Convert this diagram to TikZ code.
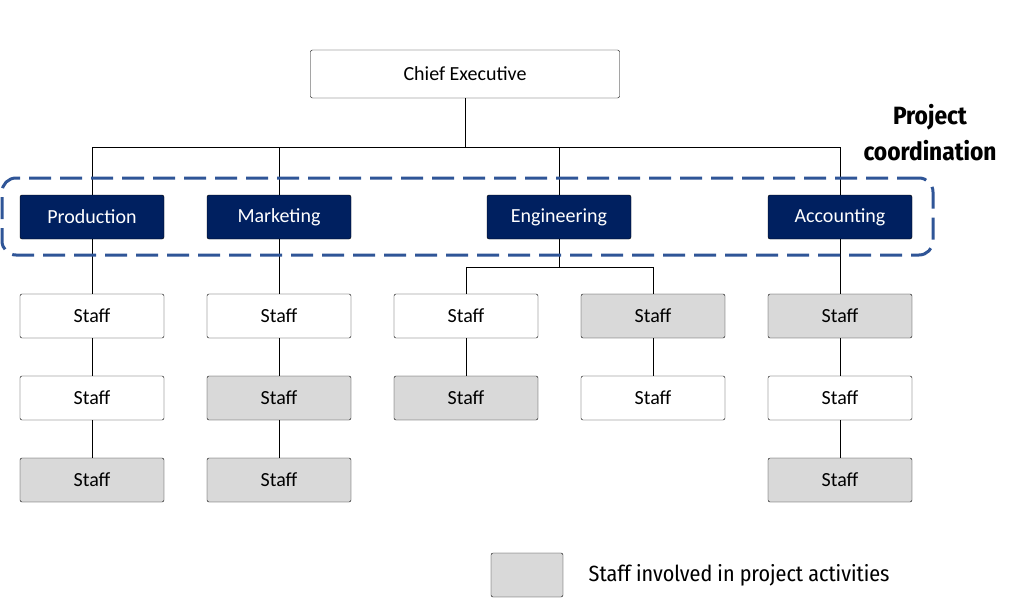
\documentclass[tikz,border=0pt]{standalone}
\usepackage{fontspec}
\setmainfont{Carlito}
\newfontfamily\narrowfont{Fira Sans Condensed}[Scale=1]
\usetikzlibrary{positioning}
\definecolor{deptblue}{RGB}{0,32,96}
\definecolor{dashblue}{RGB}{47,85,151}
\definecolor{involved}{RGB}{217,217,217}
\begin{document}
\begin{tikzpicture}[x=1pt, y=-1pt]
    \tikzstyle{box}   = [draw, rounded corners=2pt, minimum width=144pt, minimum height=44pt,
                         inner sep=0pt, font=\fontsize{20}{24}\selectfont]
    \tikzstyle{staff} = [box, fill=white]
    \tikzstyle{inv}   = [box, fill=involved]
    \tikzstyle{dept}  = [box, fill=deptblue, text=white]
    \tikzstyle{link}  = [draw, line width=0.8pt]

    \useasboundingbox (0,0) rectangle (1024,615);

    % Chief and departments
    \node[box, minimum width=309pt, minimum height=48pt] (chief) at (465,74) {Chief Executive};
    \node[dept] (prod) at (92,217)  {Production};
    \node[dept] (mark) at (279,217) {Marketing};
    \node[dept] (eng)  at (559,217) {Engineering};
    \node[dept] (acc)  at (840,217) {Accounting};

    \coordinate (bus) at (465,147);
    \draw[link] (chief.south) -- (bus);
    \foreach \d in {prod, mark, eng, acc}
        \draw[link] (bus) -| (\d.north);

    % Staff columns
    \foreach \col/\x/\sa/\sb/\sc in {p/92/staff/staff/inv, m/279/staff/inv/inv,
                                     a/840/inv/staff/inv} {
        \node[\sa] (\col1) at (\x,316) {Staff};
        \node[\sb] (\col2) at (\x,398) {Staff};
        \node[\sc] (\col3) at (\x,480) {Staff};
        \draw[link] (\col1) -- (\col2);
        \draw[link] (\col2) -- (\col3);
    }
    \draw[link] (prod) -- (p1);
    \draw[link] (mark) -- (m1);
    \draw[link] (acc) -- (a1);

    \node[staff] (e1) at (466,316) {Staff};
    \node[inv]   (e2) at (466,398) {Staff};
    \node[inv]   (f1) at (653,316) {Staff};
    \node[staff] (f2) at (653,398) {Staff};
    \coordinate (split) at (559,267);
    \draw[link] (eng) -- (split);
    \draw[link] (split) -| (e1.north);
    \draw[link] (split) -| (f1.north);
    \draw[link] (e1) -- (e2);
    \draw[link] (f1) -- (f2);

    % Project coordination
    \node[draw=dashblue, line width=3pt, dash pattern=on 22pt off 9pt, rounded corners=14pt,
          minimum width=931pt, minimum height=77pt] (coord) at (467.5,216.5) {};
    \node[font=\narrowfont\bfseries\fontsize{25}{36}\selectfont, align=center] (coordt)
        at (930,133) {Project\\coordination};

    % Legend
    \node[inv, minimum width=72pt] (key) at (527,575) {};
    \node[font=\narrowfont\fontsize{22}{26}\selectfont, anchor=west, right=22pt of key] (keyt)
        {Staff involved in project activities};
\end{tikzpicture}
\end{document}
